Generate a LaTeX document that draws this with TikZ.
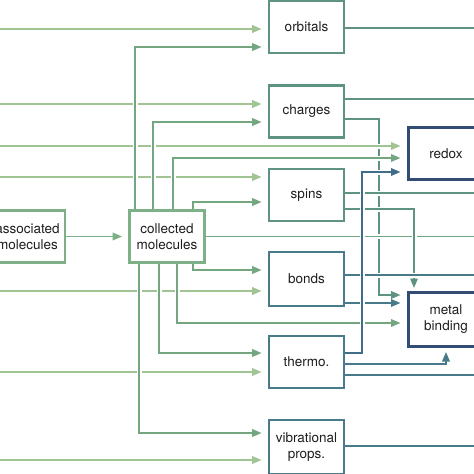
\documentclass[tikz,border=0pt]{standalone}
\usepackage{fontspec}
\setmainfont{TeX Gyre Heros}
\usetikzlibrary{arrows.meta}
\definecolor{lg}{RGB}{160,196,148}
\definecolor{mg}{RGB}{116,166,128}
\definecolor{cbox}{RGB}{126,176,136}
\definecolor{tg}{RGB}{94,146,130}
\definecolor{bt}{RGB}{72,122,138}
\definecolor{db}{RGB}{50,76,116}
\definecolor{bl}{RGB}{64,110,138}
\definecolor{txt}{RGB}{30,30,30}
\pgfdeclarelayer{bg}
\pgfsetlayers{bg,main}
\begin{document}
\begin{tikzpicture}[x=1pt,y=-1pt,
  box/.style={draw, fill=white, line width=2.7pt, minimum width=75pt, minimum height=52pt,
    inner sep=0pt, align=center, font=\fontsize{13.5}{16}\selectfont, text=txt},
  bigbox/.style={box, line width=3pt, minimum width=76pt},
  conn/.style={line width=1.8pt, preaction={draw=white, line width=5pt, arrows=-}},
  arr/.style={conn, -{Triangle[length=9.5pt,width=7.5pt]}, shorten >=6pt},
]
\useasboundingbox (0,0) rectangle (474,474);

% boxes
\node[box, draw=tg] (orb) at (306.5,27) {orbitals};
\node[box, draw=tg] (chg) at (306.5,111.5) {charges};
\node[box, draw=tg] (spn) at (306.5,195) {spins};
\node[box, draw=bt, minimum height=54pt] (bnd) at (306.5,279) {bonds};
\node[box, draw=bt] (thm) at (306.5,362) {thermo.};
\node[box, draw=bt, minimum height=54pt] (vib) at (306.5,447) {vibrational\\props.};
\node[bigbox, draw=db] (rdx) at (446,153.5) {redox};
\node[bigbox, draw=db, minimum height=54pt] (mtl) at (446,319) {metal\\binding};
\node[box, draw=cbox] (col) at (167,236.5) {collected\\molecules};
\node[box, draw=cbox] (ass) at (27.5,236.5) {associated\\molecules};

% free ends
\foreach \n/\yy in {i1/29,i2/104,i3/146,i4/177,i5/291,i6/372,i7/460}
  \coordinate (\n) at (-3,\yy);
\foreach \n/\yy in {o1/28,o2/99,o3/193,o4/236.5,o5/275,o6/375,o7/446}
  \coordinate (\n) at (480,\yy);

\begin{pgfonlayer}{bg}
% charges -> metal binding (lowest)
\draw[arr, tg] (chg.east |- 0,119) -- (379,119) -- (379,295) -- (mtl.west |- 0,295);

% inputs from the left
\draw[arr, lg] (i1) -- (orb.west |- i1);
\draw[arr, lg] (i2) -- (chg.west |- i2);
\draw[arr, lg] (i3) -- (rdx.west |- i3);
\draw[arr, lg] (i4) -- (spn.west |- i4);
\draw[arr, lg] (i5) -- (bnd.west |- i5);
\draw[arr, lg] (i6) -- (thm.west |- i6);
\draw[arr, lg] (i7) -- (vib.west |- i7);
\draw[arr, cbox] (ass) -- (col);

% collected -> out
\draw[conn, mg] (col.east) -- (o4);

% spins -> metal binding
\draw[arr, tg, shorten >=2.5pt] (spn.east |- 0,209) -- (414,209) -- (mtl.north -| 414,0);

% bonds -> out
\draw[conn, bt] (bnd.east |- o5) -- (o5);

% other outputs
\draw[conn, tg] (orb.east |- o1) -- (o1);
\draw[conn, tg] (chg.east |- o2) -- (o2);
\draw[conn, tg] (spn.east |- o3) -- (o3);
\draw[arr, bt] (bnd.east |- 0,303) -- (mtl.west |- 0,303);
\draw[arr, bt, shorten >=4.5pt] (thm.east |- 0,364) -- (446,364) -- (mtl.south);
\draw[conn, bt] (thm.east |- o6) -- (o6);
\draw[conn, bt] (vib.east |- o7) -- (o7);

% collected -> properties
\draw[arr, mg] (col.north -| 135,0) -- (135,47) -- (orb.west |- 0,47);
\draw[arr, mg] (col.north -| 153,0) -- (153,122) -- (chg.west |- 0,122);
\draw[arr, mg] (col.north -| 173,0) -- (173,158) -- (rdx.west |- 0,158);
\draw[arr, mg] (col.north -| 193,0) -- (193,202) -- (spn.west |- 0,202);
\draw[arr, mg] (col.south -| 193,0) -- (193,270) -- (bnd.west |- 0,270);
\draw[arr, mg] (col.south -| 177,0) -- (177,323) -- (mtl.west |- 0,323);
\draw[arr, mg] (col.south -| 159,0) -- (159,353) -- (thm.west |- 0,353);
\draw[arr, mg] (col.south -| 139,0) -- (139,433) -- (vib.west |- 0,433);

% thermo -> redox
\draw[arr, bl] (thm.east |- 0,353) -- (362,353) -- (362,172) -- (rdx.west |- 0,172);
\end{pgfonlayer}
\end{tikzpicture}
\end{document}
